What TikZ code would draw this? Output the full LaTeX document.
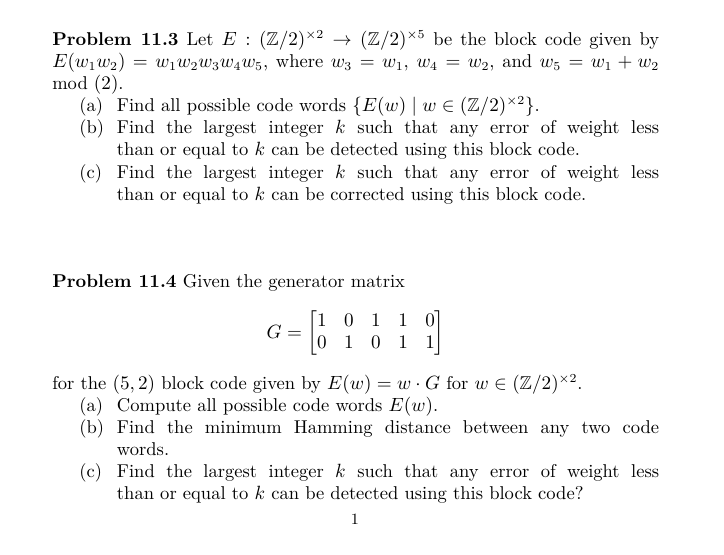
\documentclass[tikz,border=0pt]{standalone}
\usepackage{amsmath,amssymb}
\newcommand{\itm}[2]{\par\noindent\hangindent=37pt\hangafter=1\hspace*{15.5pt}\makebox[21.5pt][l]{#1}#2\par}
\begin{document}
\begin{tikzpicture}[x=1pt,y=1pt,txt/.style={anchor=north west,inner sep=0pt,text width=347pt,align=justify,font=\fontsize{10.6}{12.6}\selectfont}]
\useasboundingbox (0,0) rectangle (414,-317);
\fill[white] (0,0) rectangle (414,-317);
\node[txt] (p1) at (29.7,-17.5) {%
\textbf{Problem 11.3} Let $E:(\mathbb{Z}/2)^{\times 2}\to(\mathbb{Z}/2)^{\times 5}$ be the block code given by $E(w_1w_2)=w_1w_2w_3w_4w_5$, where $w_3=w_1$, $w_4=w_2$, and $w_5=w_1+w_2$\linebreak mod $(2)$.
\itm{(a)}{Find all possible code words $\{E(w)\mid w\in(\mathbb{Z}/2)^{\times 2}\}$.}
\itm{(b)}{Find the largest integer $k$ such that any error of weight less\linebreak than or equal to $k$ can be detected using this block code.}
\itm{(c)}{Find the largest integer $k$ such that any error of weight less\linebreak than or equal to $k$ can be corrected using this block code.}};
\node[txt] (p2) at (29.7,-157) {%
\textbf{Problem 11.4} Given the generator matrix
\[G=\begin{bmatrix}1&0&1&1&0\\0&1&0&1&1\end{bmatrix}\]
for the $(5,2)$ block code given by $E(w)=w\cdot G$ for $w\in(\mathbb{Z}/2)^{\times 2}$.
\itm{(a)}{Compute all possible code words $E(w)$.}
\itm{(b)}{Find the minimum Hamming distance between any two code\linebreak words.}
\itm{(c)}{Find the largest integer $k$ such that any error of weight less\linebreak than or equal to $k$ can be detected using this block code?}};
\node[inner sep=0pt,font=\small] (pg) at (203,-297) {1};
\end{tikzpicture}
\end{document}
